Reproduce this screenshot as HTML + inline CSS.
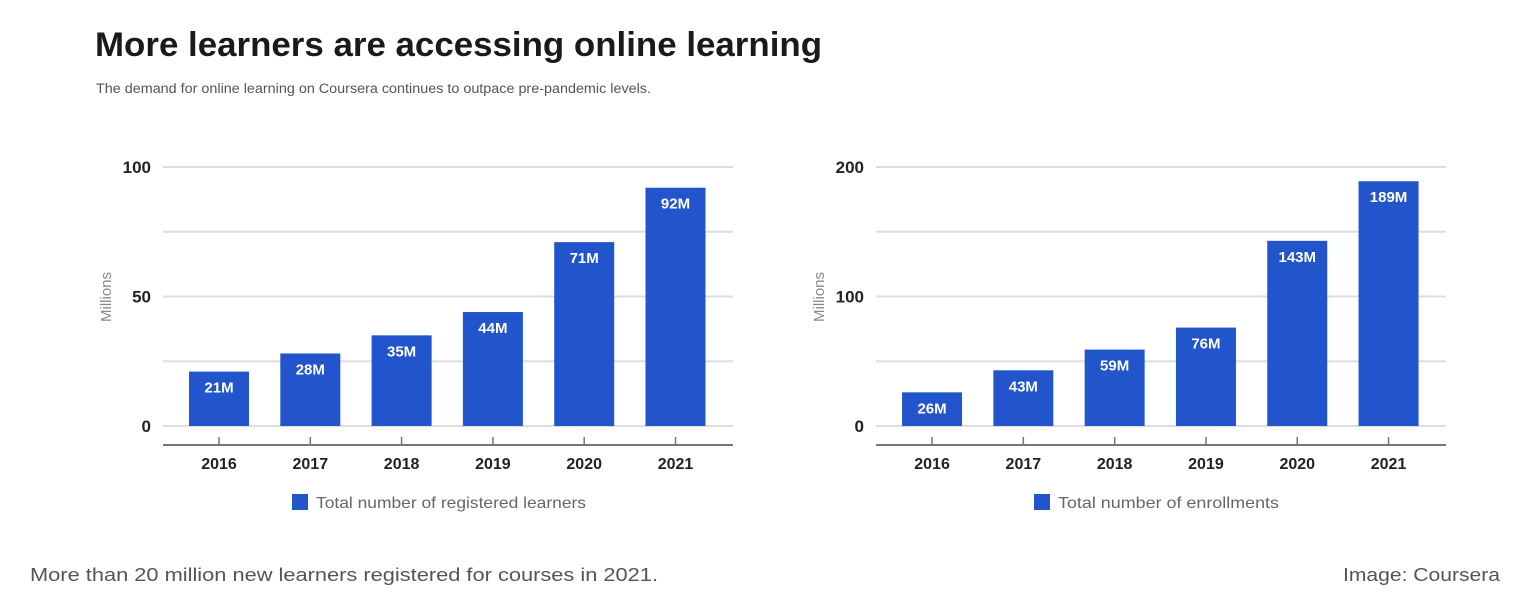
<!DOCTYPE html>
<html><head><meta charset="utf-8"><style>
body{margin:0;width:1536px;height:601px;background:#fff;overflow:hidden;font-family:"Liberation Sans",sans-serif}
svg{position:absolute;left:0;top:0}
</style></head><body>
<svg id="c" width="1536" height="601">
<text x="95" y="56" font-size="34" font-weight="bold" fill="#1a1a1a" textLength="727" lengthAdjust="spacingAndGlyphs">More learners are accessing online learning</text>
<text x="96" y="93" font-size="13.5" fill="#555" textLength="555" lengthAdjust="spacingAndGlyphs">The demand for online learning on Coursera continues to outpace pre-pandemic levels.</text>
<text x="30" y="581" font-size="18" fill="#555" textLength="628" lengthAdjust="spacingAndGlyphs">More than 20 million new learners registered for courses in 2021.</text>
<text x="1343" y="581" font-size="18" fill="#555" textLength="157" lengthAdjust="spacingAndGlyphs">Image: Coursera</text>
</svg>
<script>
const years=["2016","2017","2018","2019","2020","2021"];
const learners=[21,28,35,44,71,92];
const enrollments=[26,43,59,76,143,189];
const learnerTicks=[0,25,50,75,100];
const enrollTicks=[0,50,100,150,200];
const learnerTickLabels=["0","","50","","100"];
const enrollTickLabels=["0","","100","","200"];
const svg=document.getElementById('c');
const NS="http://www.w3.org/2000/svg";
function mk(t,a,txt){const e=document.createElementNS(NS,t);for(const k in a)e.setAttribute(k,a[k]);if(txt!==undefined)e.textContent=txt;svg.appendChild(e);return e;}
function chart(cfg){
  const y=v=>426-(v/cfg.max)*(426-167);
  const x=i=>cfg.x0+(i+0.5)*91.3;
  cfg.ticks.forEach((t,i)=>{
    const g=mk('line',{x1:cfg.axL,x2:cfg.axR,y1:y(t),y2:y(t),stroke:'#ddd','stroke-width':2});
    
    
    if(cfg.labels[i]){const l=mk('text',{x:cfg.axL-12,y:y(t)+6,'font-size':17,'font-weight':'bold','text-anchor':'end',fill:'#222'},cfg.labels[i]);
    
    }
  });
  const ax=mk('line',{x1:cfg.axL,x2:cfg.axR,y1:445,y2:445,stroke:'#777','stroke-width':2});
  
  
  const yt=mk('text',{x:0,y:0,'font-size':15,fill:'#888','text-anchor':'middle',transform:`translate(${cfg.axL-52},297) rotate(-90)`},'Millions');
  
  
  cfg.vals.forEach((v,i)=>{
    const cx=x(i);
    const b=mk('rect',{x:cx-30,y:y(v),width:60,height:426-y(v),fill:'#2255cc'});
    
    
    const vl=mk('text',{x:cx,y:y(v)+21,'font-size':15,'font-weight':'bold',fill:'#fff','text-anchor':'middle'},v+'M');
    
    
    const tk=mk('line',{x1:cx,x2:cx,y1:437,y2:445,stroke:'#777','stroke-width':1.5});
    
    
    const xl=mk('text',{x:cx,y:469,'font-size':16,'font-weight':'bold',fill:'#222','text-anchor':'middle'},years[i]);
    
    
  });
  const lg=mk('rect',{x:cfg.legX,y:494,width:16,height:16,fill:'#2255cc'});
  
  
  const lt=mk('text',{x:cfg.legX+24,y:508,'font-size':16,fill:'#666',textLength:cfg.legW,lengthAdjust:'spacingAndGlyphs'},cfg.legend);
  
  
}
chart({vals:learners,max:100,ticks:learnerTicks,labels:learnerTickLabels,x0:173.35,axL:163,axR:733,legX:292,legW:270,legend:'Total number of registered learners'});
chart({vals:enrollments,max:200,ticks:enrollTicks,labels:enrollTickLabels,x0:886.4,axL:876,axR:1446,legX:1034,legW:221,legend:'Total number of enrollments'});
</script>
</body></html>
